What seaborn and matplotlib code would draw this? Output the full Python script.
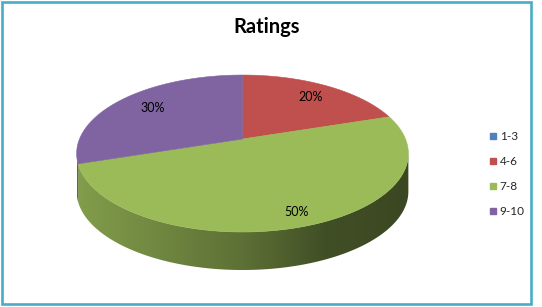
import numpy as np
import matplotlib
matplotlib.use("Agg")
import matplotlib.pyplot as plt
from matplotlib.patches import Polygon, Rectangle
from matplotlib.lines import Line2D
from matplotlib.colors import to_rgb
import seaborn as sns

# ---- data ----
categories = ["1-3", "4-6", "7-8", "9-10"]
values = [0, 20, 50, 30]
colors = ["#4F81BD", "#C0504D", "#9BBB59", "#8064A2"]
title = "Ratings"

sns.set_theme(style="white")
plt.rcParams["font.family"] = ["Lato", "DejaVu Sans"]
palette = sns.color_palette(colors)

W, H = 542, 307
fig = plt.figure(figsize=(W / 100, H / 100), dpi=100)
ax = fig.add_axes([0, 0, 1, 1])
ax.set_xlim(0, W)
ax.set_ylim(H, 0)
ax.axis("off")

# ---- 3D pie geometry (pixel space) ----
cx, cy = 242.5, 139.0
A, B, k = 163.0, 75.8, 0.185
depth = 38.0


def proj(theta_deg, r=1.0, dz=0.0):
    t = np.radians(theta_deg)
    x = r * np.cos(t)
    y = r * np.sin(t)
    w = 1 + k * y
    return cx + A * x / w, cy - B * y / w + dz


total = float(sum(values))
spans = [360.0 * v / total for v in values]
starts = 90 - np.concatenate([[0], np.cumsum(spans)[:-1]])
ends = starts - np.array(spans)

# visible front side range
tang = np.degrees(np.arcsin(k))
vis_lo, vis_hi = 180 + tang, 360 - tang
xl, _ = proj(vis_lo)
xr, _ = proj(vis_hi)


def shade(t):
    return np.interp(t, [0, 0.5, 0.75, 1.0], [0.84, 0.60, 0.42, 0.38])


# sides
for i, (s, e) in enumerate(zip(starts, ends)):
    if spans[i] <= 0:
        continue
    lo, hi = e, s
    for off in (0, 360, -360):
        a0 = max(lo + off, vis_lo)
        a1 = min(hi + off, vis_hi)
        if a1 <= a0:
            continue
        th = np.linspace(a0, a1, 120)
        tx, ty = proj(th)
        bx, by = proj(th[::-1], dz=depth)
        pts = np.column_stack([np.concatenate([tx, bx]), np.concatenate([ty, by])])
        poly = Polygon(pts, closed=True, transform=ax.transData, facecolor="none", edgecolor="none")
        ax.add_patch(poly)
        base = np.array(to_rgb(palette[i]))
        tt = np.linspace(0, 1, 300)
        grad = np.clip(base[None, :] * shade(tt)[:, None], 0, 1)
        im = ax.imshow(grad[None, :, :], extent=(xl, xr, cy + B + depth + 30, cy - B - 10),
                       aspect="auto", interpolation="bilinear", zorder=1)
        im.set_clip_path(poly)

# top faces
for i, (s, e) in enumerate(zip(starts, ends)):
    if spans[i] <= 0:
        continue
    th = np.linspace(s, e, 200)
    px, py = proj(th)
    X = np.concatenate([[cx], px])
    Y = np.concatenate([[cy], py])
    ax.fill(X, Y, facecolor=palette[i], edgecolor=palette[i], linewidth=0.4, zorder=2)

# data labels
for i, (s, e) in enumerate(zip(starts, ends)):
    if values[i] <= 0:
        continue
    mid = (s + e) / 2
    r = 0.76 + 0.1 * max(0.0, -np.sin(np.radians(mid)))
    lx, ly = proj(mid, r=r)
    ax.text(lx + 3, ly, f"{values[i] / total * 100:.0f}%", ha="center", va="center",
            fontsize=9, color="black", zorder=3)

# title
ax.text(266.5, 27, title, ha="center", va="center", fontsize=14.5, fontweight="bold", color="black")

# legend
handles = [Line2D([0], [0], marker="s", linestyle="none", markersize=5,
                  markerfacecolor=palette[i], markeredgecolor=palette[i]) for i in range(len(categories))]
fig.legend(handles, categories, loc="center left", bbox_to_anchor=(489 / W, 1 - 174 / H),
           frameon=False, fontsize=8.5, handlelength=0.6, handletextpad=0.3,
           labelspacing=1.2, borderpad=0, borderaxespad=0)

# outer border
ax.add_patch(Rectangle((2, 2), 529, 302, facecolor="none", edgecolor="#4BACC6", linewidth=1.9, zorder=5))

fig.savefig("out.png", dpi=100)
